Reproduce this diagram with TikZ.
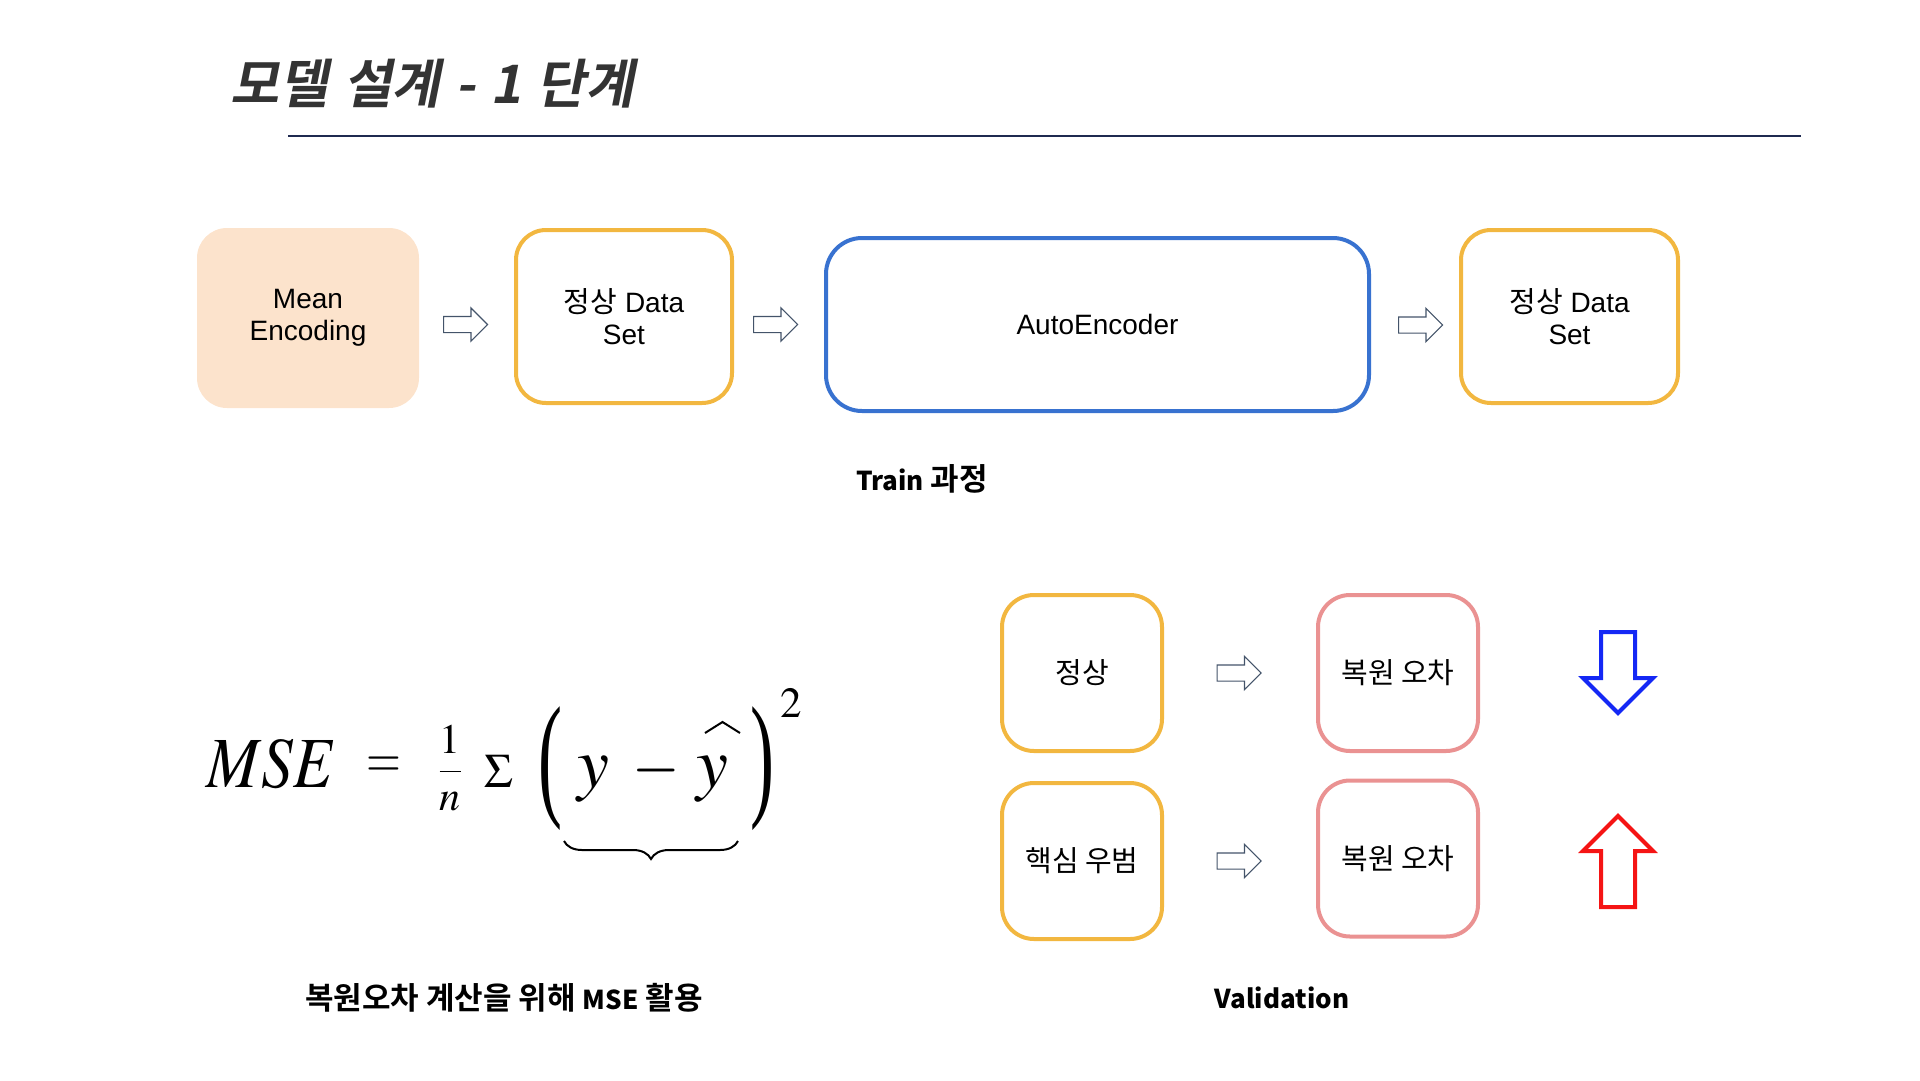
\documentclass[tikz,border=0pt]{standalone}
\usepackage{mathptmx}
\usepackage{fontspec}
\usepackage{graphicx}
\usetikzlibrary{shapes.arrows, decorations.pathreplacing}
\setmainfont{Liberation Sans}
\newfontfamily\eqfont{Liberation Serif}
\newfontfamily\kr{Noto Sans CJK KR}
\newfontfamily\krbold{Noto Sans CJK KR Bold}
\newfontfamily\krtitle[FakeSlant=0.2, WordSpace=1.25]{Noto Sans CJK KR Bold}
\newcommand{\hg}[1]{{\kr\fontsize{29}{32}\selectfont #1}}
\newcommand{\lat}[1]{{\fontsize{26}{32}\selectfont #1}}
\definecolor{peach}{RGB}{252,227,204}
\definecolor{gold}{RGB}{242,183,64}
\definecolor{aeblue}{RGB}{56,114,208}
\definecolor{rose}{RGB}{234,146,146}
\definecolor{slate}{RGB}{68,84,106}
\definecolor{navy}{RGB}{31,42,80}
\definecolor{titlegray}{RGB}{51,51,51}
\definecolor{downblue}{RGB}{20,40,245}
\definecolor{upred}{RGB}{245,20,20}

\begin{document}
\begin{tikzpicture}[x=1pt, y=-1pt,
    box/.style={draw=gold, line width=4pt, rounded corners=30pt, minimum width=216pt, minimum height=173pt, inner sep=0pt, align=center, font=\fontsize{28}{32}\selectfont},
    vbox/.style={box, minimum width=160pt, minimum height=156pt, rounded corners=32pt, font=\kr\fontsize{29}{32}\selectfont},
    flow/.style={single arrow, draw=slate, fill=white, line width=1.2pt, inner sep=7.5pt, minimum width=32pt, minimum height=44pt, single arrow head extend=8.5pt, anchor=tail},
    bigarrow/.style={single arrow, fill=white, line width=4pt, inner sep=15pt, minimum width=66pt, single arrow head extend=18pt, anchor=tail},
    caption/.style={font=\krbold\fontsize{31}{34}\selectfont},
    eqpart/.style={inner sep=0pt, anchor=base}]
    \useasboundingbox (0,0) rectangle (1920,1080);

    % title and rule
    \node[anchor=west, text=titlegray, font=\krtitle\fontsize{53}{60}\selectfont] (title) at (227,84) {모델 설계 - 1 단계};
    \coordinate (rulel) at (288,136);
    \coordinate (ruler) at (1801,136);
    \draw[navy, line width=2pt] (rulel) -- (ruler);

    % train
    \node[fill=peach, rounded corners=30pt, minimum width=222pt, minimum height=180pt, align=center, font=\fontsize{28}{32}\selectfont] (mean) at (308,318) {Mean\\Encoding};
    \node[box] (normal) at (624,316.5) {\hg{정상} Data\\Set};
    \node[box, draw=aeblue, minimum width=543pt, rounded corners=36pt] (ae) at (1097.5,324.5) {AutoEncoder};
    \node[box, minimum width=217pt] (normalout) at (1569.5,316.5) {\hg{정상} Data\\Set};

    \node[flow] (f1) at (443,324.5) {};
    \node[flow] (f2) at (753,324.5) {};
    \node[flow] (f3) at (1398,325) {};

    \node[caption] (traincap) at (922,479) {\lat{\bfseries Train} 과정};

    % formula
    \node[eqpart, anchor=base west, font=\fontsize{72}{72}\selectfont] (mse) at (206,787) {\scalebox{0.88}[1]{$MSE$}};
    \node[eqpart, font=\fontsize{56}{56}\selectfont] (eq) at (383.5,777.5) {\scalebox{0.8}[1]{$=$}};
    \node[inner sep=0pt, font=\fontsize{42}{42}\selectfont] (frac) at (450,768.5) {$\displaystyle\frac{1}{n}$};
    \node[eqpart, anchor=base west, font=\fontsize{48}{48}\selectfont] (sigma) at (484,787) {$\Sigma$};
    \node[inner sep=0pt, font=\eqfont\fontsize{72}{72}\selectfont] (lpar) at (550,769) {\scalebox{1}[1.9]{(}};
    \node[eqpart, font=\fontsize{72}{72}\selectfont] (y) at (593,787) {$y$};
    \node[eqpart, font=\fontsize{72}{72}\selectfont] (minus) at (656,788) {\scalebox{0.85}[1]{$-$}};
    \node[eqpart, font=\fontsize{72}{72}\selectfont] (yhat) at (712.5,787) {$y$};
    \coordinate (hatl) at (705,733);
    \coordinate (hatt) at (722.5,722);
    \coordinate (hatr) at (740,733);
    \draw[line width=2pt] (hatl) -- (hatt) -- (hatr);
    \node[inner sep=0pt, font=\eqfont\fontsize{72}{72}\selectfont] (rpar) at (762,769) {\scalebox{1}[1.9]{)}};
    \node[eqpart, anchor=base west, font=\fontsize{43}{43}\selectfont] (sq) at (780,717) {$2$};
    \coordinate (brl) at (564,841);
    \coordinate (brr) at (738,841);
    \draw[decorate, decoration={brace, mirror, amplitude=18pt}, line width=2pt] (brl) -- (brr);

    \node[caption] (msecap) at (504,998) {복원오차 계산을 위해 \lat{\bfseries MSE} 활용};

    % validation
    \node[vbox] (vnormal) at (1082,673) {정상};
    \node[vbox, draw=rose] (verr1) at (1398,673) {복원 오차};
    \node[vbox] (vcore) at (1082,861) {핵심 우범};
    \node[vbox, draw=rose] (verr2) at (1398,858.5) {복원 오차};

    \node[flow] (f4) at (1216.5,673) {};
    \node[flow] (f5) at (1216.5,861) {};

    \node[bigarrow, draw=downblue, shape border rotate=270, minimum height=81pt] (down) at (1618,630) {};
    \node[bigarrow, draw=upred, shape border rotate=90, minimum height=91pt] (up) at (1618,909) {};

    \node[caption] (valcap) at (1282,998) {\lat{\bfseries Validation}};
\end{tikzpicture}
\end{document}
